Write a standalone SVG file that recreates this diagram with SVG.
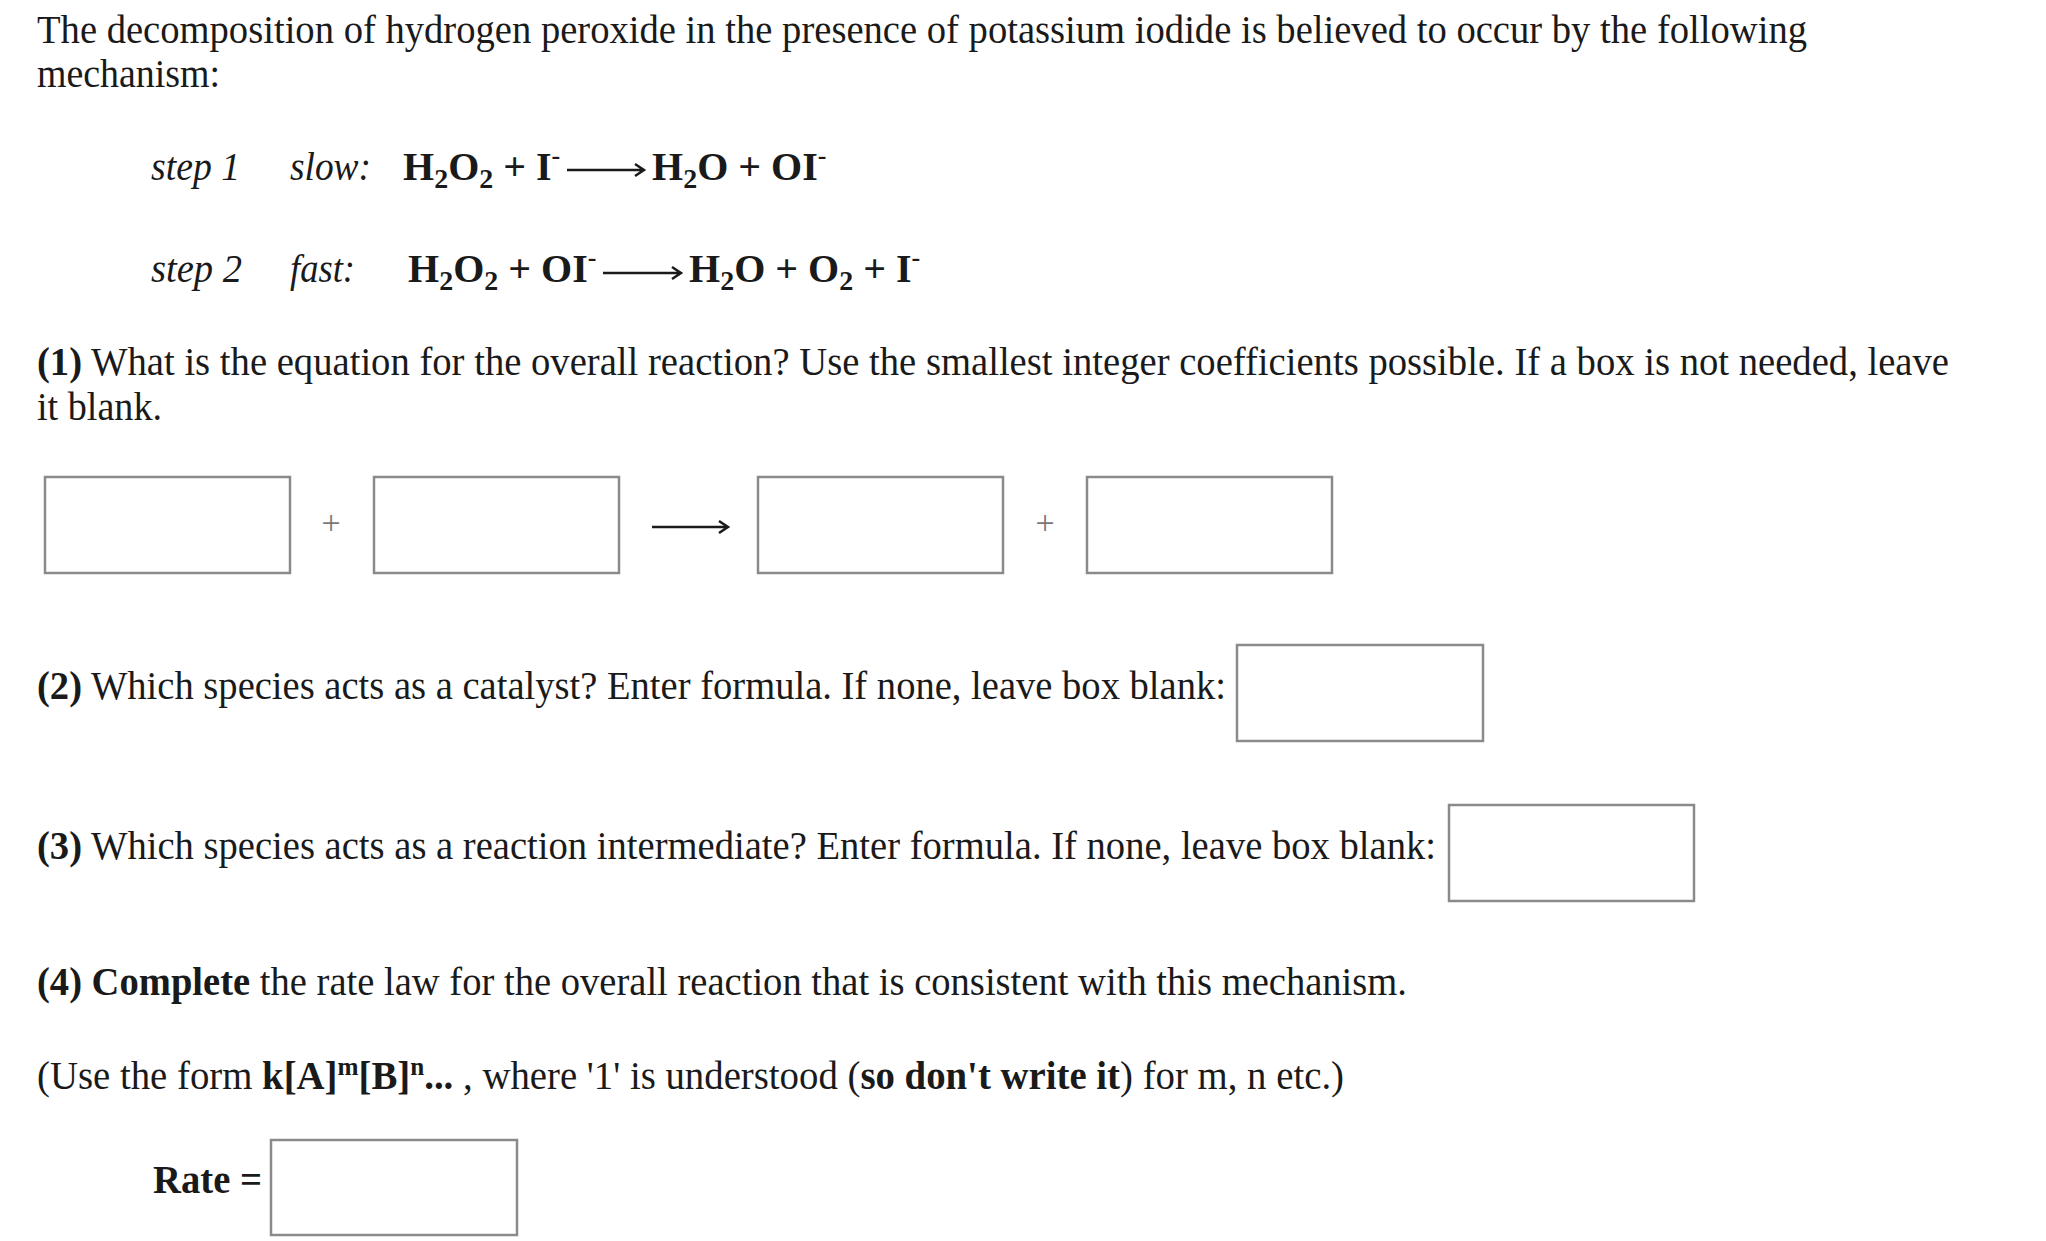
<svg xmlns="http://www.w3.org/2000/svg" width="2046" height="1241" viewBox="0 0 2046 1241">
<style>
text{font-family:"Liberation Serif","Times New Roman",serif;font-size:40px;fill:#1a1a1a}
.b{font-weight:bold}
.i{font-style:italic}
.box{fill:#fff;stroke:#8a8a8a;stroke-width:2.5}
.sub{font-size:28px}
.sup{font-size:26px}
.ar{fill:none;stroke:#1a1a1a;stroke-width:2.5}
.pl{fill:#777;font-size:34px}
</style>
<rect width="2046" height="1241" fill="#fff"/>
<g id="intro">
<text x="37" y="43" textLength="1770" lengthAdjust="spacingAndGlyphs">The decomposition of hydrogen peroxide in the presence of potassium iodide is believed to occur by the following</text>
<text x="37" y="87" textLength="183" lengthAdjust="spacingAndGlyphs">mechanism:</text>
</g>
<g id="step1">
<text x="151" y="180" class="i" textLength="89" lengthAdjust="spacingAndGlyphs">step 1</text>
<text x="290" y="180" class="i" textLength="81" lengthAdjust="spacingAndGlyphs">slow:</text>
<text x="403" y="180" class="b">H<tspan class="sub" dy="8">2</tspan><tspan dy="-8">O</tspan><tspan class="sub" dy="8">2</tspan><tspan dy="-8"> + I</tspan><tspan class="sup" dy="-16">-</tspan></text>
<text x="652" y="180" class="b">H<tspan class="sub" dy="8">2</tspan><tspan dy="-8">O + OI</tspan><tspan class="sup" dy="-16">-</tspan></text>
</g>
<g id="step2">
<text x="151" y="282" class="i" textLength="91" lengthAdjust="spacingAndGlyphs">step 2</text>
<text x="290" y="282" class="i" textLength="65" lengthAdjust="spacingAndGlyphs">fast:</text>
<text x="408" y="282" class="b">H<tspan class="sub" dy="8">2</tspan><tspan dy="-8">O</tspan><tspan class="sub" dy="8">2</tspan><tspan dy="-8"> + OI</tspan><tspan class="sup" dy="-16">-</tspan></text>
<text x="689" y="282" class="b">H<tspan class="sub" dy="8">2</tspan><tspan dy="-8">O + O</tspan><tspan class="sub" dy="8">2</tspan><tspan dy="-8"> + I</tspan><tspan class="sup" dy="-16">-</tspan></text>
</g>
<g id="connectors">
<path class="ar" d="M567 170H643M635 164L644 170L635 176"/>
<path class="ar" d="M603 273H680M672 267L681 273L672 279"/>
<path class="ar" d="M652 527H727M719 521L728 527L719 533"/>
</g>
<g id="q1">
<text x="37" y="375" textLength="1912" lengthAdjust="spacingAndGlyphs"><tspan class="b">(1)</tspan> What is the equation for the overall reaction? Use the smallest integer coefficients possible. If a box is not needed, leave</text>
<text x="37" y="420" textLength="125" lengthAdjust="spacingAndGlyphs">it blank.</text>
</g>
<g id="eq-boxes">
<rect class="box" x="45" y="477" width="245" height="96"/>
<text class="pl" x="331" y="534" text-anchor="middle">+</text>
<rect class="box" x="374" y="477" width="245" height="96"/>
<rect class="box" x="758" y="477" width="245" height="96"/>
<text class="pl" x="1045" y="534" text-anchor="middle">+</text>
<rect class="box" x="1087" y="477" width="245" height="96"/>
</g>
<g id="q2">
<text x="37" y="699" textLength="1189" lengthAdjust="spacingAndGlyphs"><tspan class="b">(2)</tspan> Which species acts as a catalyst? Enter formula. If none, leave box blank:</text>
<rect class="box" x="1237" y="645" width="246" height="96"/>
</g>
<g id="q3">
<text x="37" y="859" textLength="1399" lengthAdjust="spacingAndGlyphs"><tspan class="b">(3)</tspan> Which species acts as a reaction intermediate? Enter formula. If none, leave box blank:</text>
<rect class="box" x="1449" y="805" width="245" height="96"/>
</g>
<g id="q4">
<text x="37" y="995" textLength="1370" lengthAdjust="spacingAndGlyphs"><tspan class="b">(4) Complete</tspan> the rate law for the overall reaction that is consistent with this mechanism.</text>
<text x="37" y="1089" textLength="1307" lengthAdjust="spacingAndGlyphs">(Use the form <tspan class="b">k[A]</tspan><tspan class="b sup" dy="-14">m</tspan><tspan class="b" dy="14">[B]</tspan><tspan class="b sup" dy="-14">n</tspan><tspan class="b" dy="14">...</tspan> , where '1' is understood (<tspan class="b">so don't write it</tspan>) for m, n etc.)</text>
</g>
<g id="rate">
<text x="153" y="1193" class="b" textLength="109" lengthAdjust="spacingAndGlyphs">Rate =</text>
<rect class="box" x="271" y="1140" width="246" height="95"/>
</g>
</svg>
